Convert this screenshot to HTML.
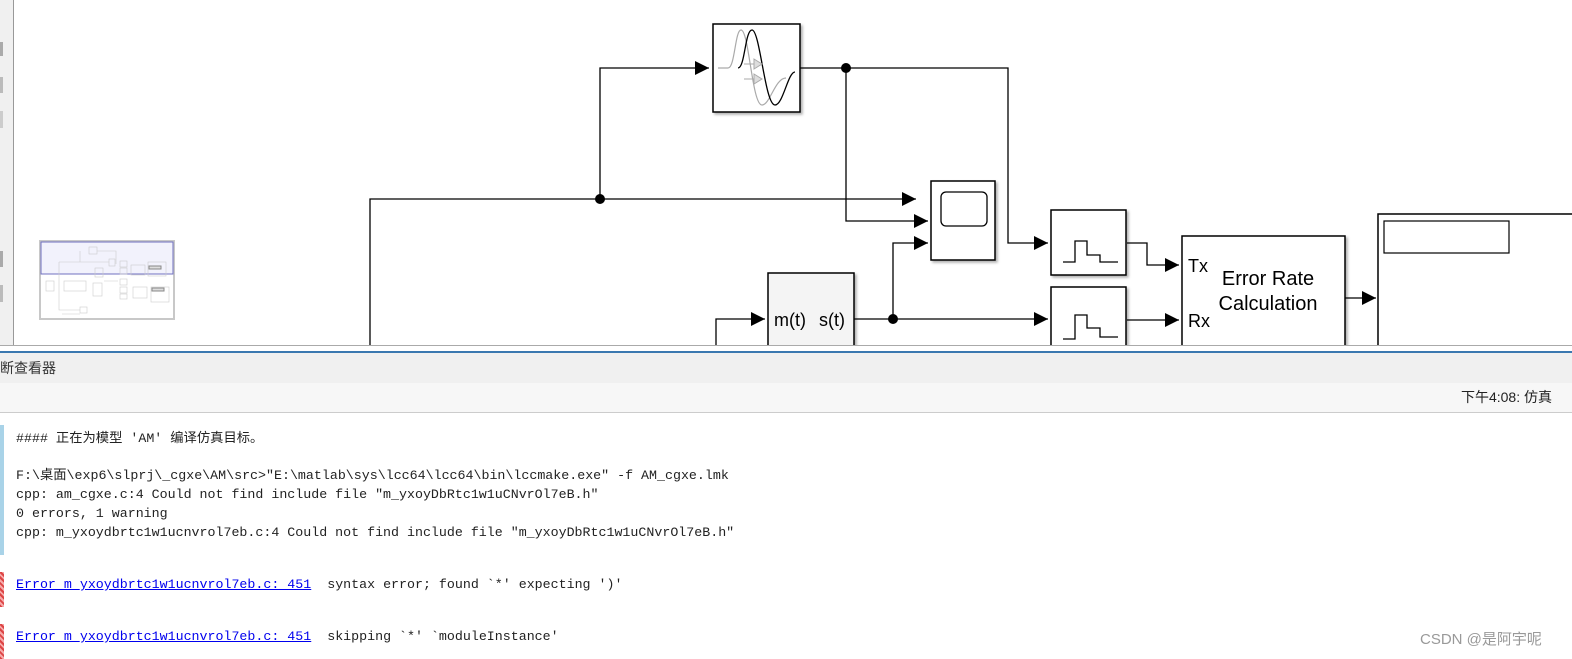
<!DOCTYPE html>
<html><head><meta charset="utf-8"><style>
body{margin:0;width:1572px;height:659px;overflow:hidden;background:#fff;position:relative;font-family:"Liberation Sans","Noto Sans CJK SC",sans-serif}
.mono{font-family:"Liberation Mono","Noto Sans CJK SC",monospace;font-size:13.3px;line-height:19px;height:19px;position:absolute;left:16px;white-space:pre;color:#222}
a{color:#00e;text-decoration:underline}
</style></head><body>
<svg width="1572" height="345" style="position:absolute;left:0;top:0" font-family="Liberation Sans, sans-serif">
<defs>
<marker id="a" markerWidth="14" markerHeight="14" refX="14" refY="7" orient="auto" markerUnits="userSpaceOnUse"><path d="M0,0 L14,7 L0,14 Z" fill="#000"/></marker>
<filter id="s"><feDropShadow dx="2" dy="2" stdDeviation="1.2" flood-color="#000" flood-opacity="0.3"/></filter>
</defs>
<rect x="0" y="0" width="13" height="345" fill="#f0f0f0"/>
<line x1="13.5" y1="0" x2="13.5" y2="345" stroke="#999"/>
<rect x="0" y="42" width="3" height="14" fill="#aaa"/><rect x="0" y="77" width="3" height="16" fill="#bbb"/><rect x="0" y="111" width="3" height="17" fill="#ccc"/><rect x="0" y="251" width="3" height="16" fill="#aaa"/><rect x="0" y="285" width="3" height="17" fill="#bbb"/>
<rect x="40" y="241" width="134" height="78" fill="#fff" stroke="#c8c8c8" stroke-width="2"/>
<rect x="41" y="242" width="132" height="32" fill="#f2f2fc" stroke="#7070c0"/>
<g stroke="#ccc" fill="none" stroke-width="0.6">
<rect x="89" y="247" width="8" height="7"/><rect x="109" y="259" width="6" height="7"/><rect x="120" y="261" width="7" height="6"/><rect x="120" y="268" width="7" height="6"/><rect x="95" y="268" width="8" height="9"/><rect x="131" y="265" width="14" height="10"/><rect x="148" y="262" width="18" height="14"/>
<rect x="46" y="281" width="8" height="10"/><rect x="64" y="281" width="22" height="10"/><rect x="93" y="283" width="9" height="13"/><rect x="120" y="279" width="7" height="6"/><rect x="120" y="287" width="7" height="6"/><rect x="120" y="294" width="7" height="5"/><rect x="133" y="287" width="14" height="11"/><rect x="151" y="287" width="18" height="15"/><rect x="80" y="307" width="7" height="6"/>
<path d="M59,262 H109 M80,251 V262 H89 M97,251 H116 V264 M59,262 V310 H80 M62,314 H80 M104,281 H118"/>
</g>
<rect x="149" y="266" width="12" height="3" fill="#ddd" stroke="#888"/><rect x="152" y="288" width="12" height="3" fill="#ddd" stroke="#888"/>
<g stroke="#000" stroke-width="1.3" fill="none">
<path d="M370,345 V199 H916" marker-end="url(#a)"/>
<path d="M600,199 V68 H709" marker-end="url(#a)"/>
<path d="M800,68 H1008 V243 H1048" marker-end="url(#a)"/>
<path d="M846,68 V221 H928" marker-end="url(#a)"/>
<path d="M893,319 V243 H928" marker-end="url(#a)"/>
<path d="M716,345 V319 H765" marker-end="url(#a)"/>
<path d="M854,319 H1048" marker-end="url(#a)"/>
<path d="M1127,243 H1147 V265 H1179" marker-end="url(#a)"/>
<path d="M1127,320 H1179" marker-end="url(#a)"/>
<path d="M1345,298 H1376" marker-end="url(#a)"/>
</g>
<g fill="#000"><circle cx="600" cy="199" r="5"/><circle cx="846" cy="68" r="5"/><circle cx="893" cy="319" r="5"/></g>
<g stroke="#000" stroke-width="1.5" fill="#fff" filter="url(#s)">
<rect x="713" y="24" width="87" height="88"/>
<rect x="931" y="181" width="64" height="79"/>
<rect x="768" y="273" width="86" height="80" fill="#f4f4f4"/>
<rect x="1051" y="210" width="75" height="65"/>
<rect x="1051" y="287" width="75" height="65"/>
<rect x="1182" y="236" width="163" height="120"/>
<rect x="1378" y="214" width="200" height="140"/>
</g>
<path d="M718,68 H728 C735,68 735,30 741,30 C749,30 752,105 762,105 C770,105 775,78 786,78" stroke="#aaa" fill="none" stroke-width="1.2"/>
<path d="M738,68 C745,68 745,30 752,30 C760,30 765,105 775,105 C783,105 788,72 795,72" stroke="#000" fill="none" stroke-width="1.3"/>
<path d="M744,64 H756 M744,79 H756" stroke="#aaa"/><path d="M754,59 L762,64 L754,69Z M754,74 L762,79 L754,84Z" fill="#ddd" stroke="#aaa"/>
<rect x="941" y="192" width="46" height="34" rx="5" fill="none" stroke="#000" stroke-width="1.3"/>
<g stroke="#000" fill="none" stroke-width="1.3"><path d="M1063,262 H1075 V241 H1087 V255 H1100 V262 H1118"/><path d="M1063,339 H1075 V315 H1087 V328 H1100 V337 H1118"/></g>
<rect x="1384" y="221" width="125" height="32" fill="none" stroke="#000" stroke-width="1.2"/>
<g font-size="18" fill="#000"><text x="774" y="326">m(t)</text><text x="819" y="326">s(t)</text>
<text x="1188" y="272">Tx</text><text x="1188" y="327">Rx</text>
<text x="1268" y="285" text-anchor="middle" font-size="20">Error Rate</text><text x="1268" y="310" text-anchor="middle" font-size="20">Calculation</text></g>
</svg>
<div style="position:absolute;left:0;top:345px;width:1572px;height:1px;background:#aaa"></div>
<div style="position:absolute;left:0;top:351px;width:1572px;height:2px;background:#3a78b0"></div>
<div style="position:absolute;left:0;top:353px;width:1572px;height:30px;background:#f0f0f0;font-size:14px;line-height:30px;color:#333">断查看器</div>
<div style="position:absolute;left:0;top:383px;width:1572px;height:29px;background:#f7f7f7;border-bottom:1px solid #ccc;font-size:14px;line-height:29px;color:#222"><span style="position:absolute;right:20px">下午4:08: 仿真</span></div>
<div style="position:absolute;left:0;top:425px;width:4px;height:130px;background:#a9d3e8"></div>
<div style="position:absolute;left:0;top:572px;width:4px;height:35px;background:repeating-linear-gradient(45deg,#d44 0 2px,#f6aaaa 2px 4px)"></div>
<div style="position:absolute;left:0;top:624px;width:4px;height:35px;background:repeating-linear-gradient(45deg,#d44 0 2px,#f6aaaa 2px 4px)"></div>
<div class="mono" style="top:429px">#### 正在为模型 'AM' 编译仿真目标。</div>
<div class="mono" style="top:466px">F:\桌面\exp6\slprj\_cgxe\AM\src&gt;"E:\matlab\sys\lcc64\lcc64\bin\lccmake.exe" -f AM_cgxe.lmk</div>
<div class="mono" style="top:485px">cpp: am_cgxe.c:4 Could not find include file "m_yxoyDbRtc1w1uCNvrOl7eB.h"</div>
<div class="mono" style="top:504px">0 errors, 1 warning</div>
<div class="mono" style="top:523px">cpp: m_yxoydbrtc1w1ucnvrol7eb.c:4 Could not find include file "m_yxoyDbRtc1w1uCNvrOl7eB.h"</div>
<div class="mono" style="top:575px"><a>Error m_yxoydbrtc1w1ucnvrol7eb.c: 451</a>  syntax error; found `*' expecting ')'</div>
<div class="mono" style="top:627px"><a>Error m_yxoydbrtc1w1ucnvrol7eb.c: 451</a>  skipping `*' `moduleInstance'</div>
<div style="position:absolute;left:1420px;top:628px;font-size:15px;color:#999">CSDN @是阿宇呢</div>
</body></html>
